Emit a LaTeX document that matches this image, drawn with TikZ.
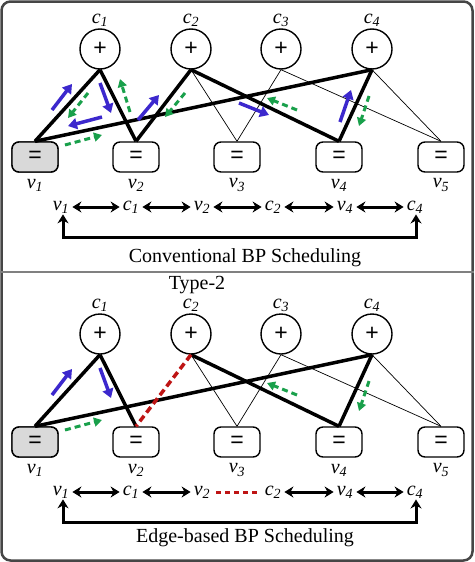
\documentclass[tikz,border=0pt]{standalone}
\usepackage{fontspec}
\setmainfont{Liberation Serif}
\newfontfamily\opfont{Liberation Sans}
\usetikzlibrary{arrows.meta, calc}

\definecolor{msgblue}{RGB}{60,40,205}
\definecolor{msggreen}{RGB}{25,160,75}
\definecolor{cutred}{RGB}{190,20,20}
\definecolor{framegray}{RGB}{70,70,70}

\newcommand{\idx}[2]{\textit{#1}\textsubscript{\textit{#2}}}

\tikzset{
  chk/.style={circle, draw, fill=white, line width=1.4pt, minimum size=40pt, inner sep=0pt,
    font=\opfont\fontsize{23}{23}\selectfont},
  var/.style={draw, fill=white, rounded corners=7pt, line width=1.4pt, minimum width=46pt, minimum height=30pt, inner sep=0pt,
    font=\opfont\fontsize{23}{23}\selectfont},
  lbl/.style={inner sep=0pt},
  seq/.style={inner sep=1pt},
  strong/.style={line width=3.5pt},
  weak/.style={line width=0.7pt},
  sched/.style={{Stealth[length=9pt,width=11pt]}-{Stealth[length=9pt,width=11pt]}, line width=3pt,
    shorten <=2pt, shorten >=2pt},
  back/.style={{Stealth[length=9pt,width=11pt]}-{Stealth[length=9pt,width=11pt]}, line width=3pt},
  fwd/.style={-{Triangle[length=9pt,width=11pt]}, line width=3.5pt, msgblue},
  bwd/.style={-{Triangle[length=8pt,width=9pt]}, line width=3pt, msggreen, dash pattern=on 6pt off 4pt},
  cut/.style={line width=3.5pt, cutred, dash pattern=on 7pt off 4pt},
}

\begin{document}
\begin{tikzpicture}[x=1pt, y=-1pt, font=\fontsize{20}{24}\selectfont]
\useasboundingbox (0,0) rectangle (474,562);
\draw[framegray, line width=2.5pt, rounded corners=9pt] (1.5,1.5) rectangle (472.5,560.5);
\draw[gray, line width=1.2pt] (0,272) -- (474,272);

% both panels: t = conventional, b = edge-based
\foreach \p/\dy in {t/0, b/285} {
  \foreach \n/\x in {1/100, 2/191, 3/281, 4/372} {
    \node[chk] (c\n\p) at (\x,49+\dy) {+};
    \node[lbl] (lc\n\p) at (\x,20+\dy) {\idx{c}{\n}};
  }
  \foreach \n/\x in {1/35, 2/136, 3/237, 4/339, 5/441} {
    \node[var] (v\n\p) at (\x,157+\dy) {=};
    \node[lbl] (lv\n\p) at (\x,185+\dy) {\idx{v}{\n}};
  }
  \node[var, fill=black!15] at (v1\p) {=};

  \draw[strong] (c1\p.south) -- (v1\p.north);
  \draw[strong] (c1\p.south) -- (v2\p.north);
  \draw[weak]   (c2\p.south) -- (v3\p.north);
  \draw[strong] (c2\p.south) -- (v4\p.north);
  \draw[weak]   (c3\p.south) -- (v3\p.north);
  \draw[weak]   (c3\p.south) -- (v5\p.north);
  \draw[strong] (c4\p.south) -- (v1\p.north);
  \draw[strong] (c4\p.south) -- (v4\p.north);
  \draw[weak]   (c4\p.south) -- (v5\p.north);

  % schedule row
  \node[seq] (s1\p) at (61,207+\dy)  {\idx{v}{1}};
  \node[seq] (s2\p) at (131,207+\dy) {\idx{c}{1}};
  \node[seq] (s3\p) at (202,207+\dy) {\idx{v}{2}};
  \node[seq] (s4\p) at (273,207+\dy) {\idx{c}{2}};
  \node[seq] (s5\p) at (345,207+\dy) {\idx{v}{4}};
  \node[seq] (s6\p) at (415,207+\dy) {\idx{c}{4}};
  \coordinate (rt\p) at (0,237+\dy);
  \draw[sched] (s1\p) -- (s2\p);
  \draw[sched] (s2\p) -- (s3\p);
  \draw[sched] (s4\p) -- (s5\p);
  \draw[sched] (s5\p) -- (s6\p);
  \draw[back] ([xshift=2pt]s1\p.south) -- ([xshift=2pt]s1\p.south |- rt\p) -| ([xshift=1pt]s6\p.south);

  % messages
  \draw[fwd] (52,110+\dy) -- (72,84+\dy);
  \draw[fwd] (100,83+\dy) -- (111,113+\dy);
  \draw[bwd] (65,145+\dy) -- (102,135+\dy);
  \draw[bwd] (297,110+\dy) -- (267,98+\dy);
  \draw[bwd] (369,96+\dy) -- (359,126+\dy);
}

% conventional only
\draw[strong] (c2t.south) -- (v2t.north);
\draw[sched] (s3t) -- (s4t);
\draw[fwd] (102,117) -- (68,126);
\draw[fwd] (138,120) -- (159,95);
\draw[fwd] (239,103) -- (269,115);
\draw[fwd] (340,122) -- (351,90);
\draw[bwd] (88,93) -- (68,118);
\draw[bwd] (130,112) -- (120,79);
\draw[bwd] (185,93) -- (165,117);
\node (capt) at (245,258) {Conventional BP Scheduling};

% edge-based only
\draw[cut] (c2b.south) -- (v2b.north);
\draw[cut, line width=3pt, dash pattern=on 5pt off 4pt, shorten <=5pt, shorten >=5pt] (s3b) -- (s4b);
\node (type) at (197,285) {Type-2};
\node (capb) at (245,538) {Edge-based BP Scheduling};
\end{tikzpicture}
\end{document}
